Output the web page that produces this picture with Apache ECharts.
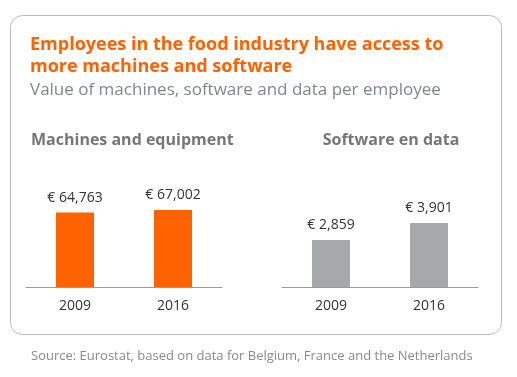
<!DOCTYPE html>
<html>
<head>
<meta charset="utf-8">
<script src="https://cdn.jsdelivr.net/npm/echarts@6/dist/echarts.min.js"></script>
<style>
  html, body { margin: 0; padding: 0; background: #fff; }
  #chart { width: 517px; height: 377px; }
</style>
</head>
<body>
<div id="chart"></div>
<script>
// data
const years = ['2009', '2016']
const machines = [64763, 67002]
const software = [2859, 3901]

const font = '"Open Sans", sans-serif'
const orange = '#FF6200'
const gray = '#A7A8AA'

const fmt = (p) => '€ ' + p.value.toLocaleString('en-US')

const chart = echarts.init(document.getElementById('chart'))

const axisX = (idx) => ({
  type: 'category',
  gridIndex: idx,
  data: years,
  axisTick: { show: false },
  axisLine: { lineStyle: { color: '#9a9a9a', width: 1 } },
  axisLabel: { color: '#333', fontSize: 14, fontFamily: font, margin: 12 }
})
const axisY = (idx, max) => ({
  type: 'value',
  gridIndex: idx,
  min: 0,
  max: max,
  show: false,
  splitLine: { show: false }
})
const barLabel = {
  show: true,
  position: 'top',
  distance: 8,
  color: '#333',
  fontSize: 14,
  fontFamily: font,
  formatter: fmt
}

const option = {
  animation: false,
  backgroundColor: '#fff',
  title: [
    {
      text: 'Employees in the food industry have access to\nmore machines and software',
      left: 25,
      top: 29,
      textStyle: { color: orange, fontSize: 18, fontWeight: 'bold', fontFamily: font, lineHeight: 22 }
    },
    {
      text: 'Value of machines, software and data per employee',
      left: 25,
      top: 77,
      textStyle: { color: '#80858e', fontSize: 17, fontWeight: 'normal', fontFamily: font }
    },
    {
      text: 'Machines and equipment',
      left: 26,
      top: 127,
      textStyle: { color: '#767676', fontSize: 16, fontWeight: 'bold', fontFamily: font }
    },
    {
      text: 'Software en data',
      left: 386,
      textAlign: 'center',
      top: 127,
      textStyle: { color: '#767676', fontSize: 16, fontWeight: 'bold', fontFamily: font }
    },
    {
      text: 'Source: Eurostat, based on data for Belgium, France and the Netherlands',
      left: 26,
      top: 345,
      textStyle: { color: '#8a8a8a', fontSize: 13, fontWeight: 'normal', fontFamily: font }
    }
  ],
  graphic: [
    {
      type: 'rect',
      shape: { x: 10.5, y: 15.5, width: 491, height: 319, r: 12 },
      style: { fill: 'none', stroke: '#bcbcbc', lineWidth: 1 },
      z: -1
    }
  ],
  grid: [
    { left: 26, top: 195, width: 196, height: 92 },
    { left: 282, top: 195, width: 196, height: 92 }
  ],
  xAxis: [axisX(0), axisX(1)],
  yAxis: [axisY(0, 80000), axisY(1, 5608)],
  series: [
    {
      type: 'bar',
      xAxisIndex: 0,
      yAxisIndex: 0,
      data: machines,
      barWidth: 38,
      itemStyle: { color: orange },
      label: barLabel
    },
    {
      type: 'bar',
      xAxisIndex: 1,
      yAxisIndex: 1,
      data: software,
      barWidth: 38,
      itemStyle: { color: gray },
      label: barLabel
    }
  ]
}

chart.setOption(option)
</script>
</body>
</html>
